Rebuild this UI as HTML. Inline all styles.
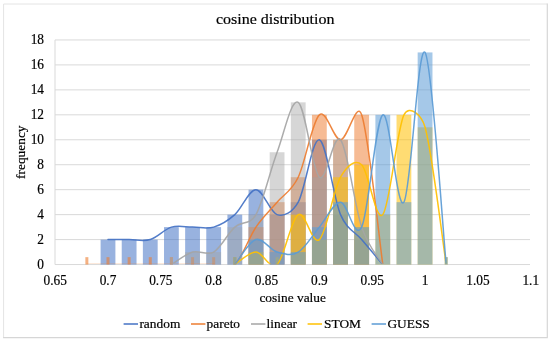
<!DOCTYPE html>
<html><head><meta charset="utf-8"><title>cosine distribution</title>
<style>html,body{margin:0;padding:0;background:#fff;}svg{display:block;}</style>
</head><body>
<svg width="550" height="341" viewBox="0 0 550 341">
<rect x="0" y="0" width="550" height="341" fill="#fff"/>
<path d="M3.6,4 H547.3 M3.6,4 V337.7" stroke="#e4e4e4" stroke-width="1" fill="none"/>
<path d="M547.3,3.5 V337.7 M3.1,337.7 H547.8" stroke="#d6d6d6" stroke-width="1.2" fill="none"/>
<line x1="55.0" y1="264.55" x2="530.0" y2="264.55" stroke="#d9d9d9" stroke-width="1"/>
<line x1="55.0" y1="239.59" x2="530.0" y2="239.59" stroke="#d9d9d9" stroke-width="1"/>
<line x1="55.0" y1="214.64" x2="530.0" y2="214.64" stroke="#d9d9d9" stroke-width="1"/>
<line x1="55.0" y1="189.68" x2="530.0" y2="189.68" stroke="#d9d9d9" stroke-width="1"/>
<line x1="55.0" y1="164.73" x2="530.0" y2="164.73" stroke="#d9d9d9" stroke-width="1"/>
<line x1="55.0" y1="139.77" x2="530.0" y2="139.77" stroke="#d9d9d9" stroke-width="1"/>
<line x1="55.0" y1="114.82" x2="530.0" y2="114.82" stroke="#d9d9d9" stroke-width="1"/>
<line x1="55.0" y1="89.86" x2="530.0" y2="89.86" stroke="#d9d9d9" stroke-width="1"/>
<line x1="55.0" y1="64.91" x2="530.0" y2="64.91" stroke="#d9d9d9" stroke-width="1"/>
<line x1="55.0" y1="39.95" x2="530.0" y2="39.95" stroke="#d9d9d9" stroke-width="1"/>
<line x1="55.0" y1="39.95" x2="55.0" y2="264.55" stroke="#d9d9d9" stroke-width="1"/>
<g fill="#4472C4" fill-opacity="0.55">
<rect x="100.59" y="239.59" width="14.8" height="24.96"/>
<rect x="121.73" y="239.59" width="14.8" height="24.96"/>
<rect x="142.87" y="239.59" width="14.8" height="24.96"/>
<rect x="164.01" y="227.12" width="14.8" height="37.43"/>
<rect x="185.15" y="227.12" width="14.8" height="37.43"/>
<rect x="206.28" y="227.12" width="14.8" height="37.43"/>
<rect x="227.42" y="214.64" width="14.8" height="49.91"/>
<rect x="248.56" y="189.68" width="14.8" height="74.87"/>
<rect x="269.70" y="214.64" width="14.8" height="49.91"/>
<rect x="290.83" y="202.16" width="14.8" height="62.39"/>
<rect x="311.97" y="139.77" width="14.8" height="124.78"/>
<rect x="333.11" y="214.64" width="14.8" height="49.91"/>
<rect x="354.25" y="239.59" width="14.8" height="24.96"/>
</g>
<g fill="#ED7D31" fill-opacity="0.52">
<rect x="85.36" y="257.15" width="3.0" height="7.4" fill-opacity="0.6"/>
<rect x="106.49" y="257.15" width="3.0" height="7.4" fill-opacity="0.6"/>
<rect x="127.63" y="257.15" width="3.0" height="7.4" fill-opacity="0.6"/>
<rect x="148.77" y="257.15" width="3.0" height="7.4" fill-opacity="0.6"/>
<rect x="169.91" y="257.15" width="3.0" height="7.4" fill-opacity="0.6"/>
<rect x="191.05" y="257.15" width="3.0" height="7.4" fill-opacity="0.6"/>
<rect x="212.18" y="257.15" width="3.0" height="7.4" fill-opacity="0.6"/>
<rect x="233.32" y="257.15" width="3.0" height="7.4" fill-opacity="0.6"/>
<rect x="248.56" y="227.12" width="14.8" height="37.43"/>
<rect x="269.70" y="202.16" width="14.8" height="62.39"/>
<rect x="290.83" y="177.21" width="14.8" height="87.34"/>
<rect x="311.97" y="114.82" width="14.8" height="149.73"/>
<rect x="333.11" y="139.77" width="14.8" height="124.78"/>
<rect x="354.25" y="114.82" width="14.8" height="149.73"/>
</g>
<g fill="#A5A5A5" fill-opacity="0.45">
<rect x="169.91" y="257.15" width="3.0" height="7.4" fill-opacity="0.6"/>
<rect x="185.15" y="252.07" width="14.8" height="12.48"/>
<rect x="206.28" y="252.07" width="14.8" height="12.48"/>
<rect x="227.42" y="227.12" width="14.8" height="37.43"/>
<rect x="248.56" y="214.64" width="14.8" height="49.91"/>
<rect x="269.70" y="152.25" width="14.8" height="112.30"/>
<rect x="290.83" y="102.34" width="14.8" height="162.21"/>
<rect x="311.97" y="177.21" width="14.8" height="87.34"/>
<rect x="333.11" y="139.77" width="14.8" height="124.78"/>
<rect x="354.25" y="227.12" width="14.8" height="37.43"/>
</g>
<g fill="#FFC000" fill-opacity="0.55">
<rect x="233.32" y="257.15" width="3.0" height="7.4" fill-opacity="0.6"/>
<rect x="248.56" y="252.07" width="14.8" height="12.48"/>
<rect x="275.60" y="257.15" width="3.0" height="7.4" fill-opacity="0.6"/>
<rect x="290.83" y="214.64" width="14.8" height="49.91"/>
<rect x="311.97" y="239.59" width="14.8" height="24.96"/>
<rect x="333.11" y="177.21" width="14.8" height="87.34"/>
<rect x="354.25" y="164.73" width="14.8" height="99.82"/>
<rect x="375.39" y="214.64" width="14.8" height="49.91"/>
<rect x="396.52" y="114.82" width="14.8" height="149.73"/>
<rect x="417.66" y="127.29" width="14.8" height="137.26"/>
<rect x="444.70" y="257.15" width="3.0" height="7.4" fill-opacity="0.6"/>
</g>
<g fill="#5B9BD5" fill-opacity="0.55">
<rect x="233.32" y="257.15" width="3.0" height="7.4" fill-opacity="0.6"/>
<rect x="248.56" y="239.59" width="14.8" height="24.96"/>
<rect x="269.70" y="252.07" width="14.8" height="12.48"/>
<rect x="290.83" y="252.07" width="14.8" height="12.48"/>
<rect x="311.97" y="227.12" width="14.8" height="37.43"/>
<rect x="333.11" y="202.16" width="14.8" height="62.39"/>
<rect x="354.25" y="227.12" width="14.8" height="37.43"/>
<rect x="375.39" y="114.82" width="14.8" height="149.73"/>
<rect x="396.52" y="202.16" width="14.8" height="62.39"/>
<rect x="417.66" y="52.43" width="14.8" height="212.12"/>
<rect x="444.70" y="257.15" width="3.0" height="7.4" fill-opacity="0.6"/>
</g>
<defs><clipPath id="pc"><rect x="54.0" y="37.95" width="477.0" height="225.90000000000003"/></clipPath></defs>
<g clip-path="url(#pc)">
<path d="M107.99,239.59 C111.52,239.59 122.09,239.59 129.13,239.59 C136.18,239.59 143.22,241.67 150.27,239.59 C157.32,237.51 164.36,229.20 171.41,227.12 C178.45,225.04 185.50,227.12 192.55,227.12 C199.59,227.12 206.64,229.20 213.68,227.12 C220.73,225.04 227.78,220.88 234.82,214.64 C241.87,208.40 248.91,189.68 255.96,189.68 C263.00,189.68 270.05,212.56 277.10,214.64 C284.14,216.72 292.20,212.85 298.23,202.16 C305.28,189.68 312.33,137.69 319.37,139.77 C326.42,141.85 333.46,198.00 340.51,214.64 C346.89,229.70 354.60,231.28 361.65,239.59 C368.69,247.91 379.26,260.39 382.79,264.55" fill="none" stroke="#4472C4" stroke-width="1.5" stroke-opacity="0.92" stroke-linejoin="round" stroke-linecap="round"/>
<path d="M86.86,264.55 C90.38,264.55 100.95,264.55 107.99,264.55 C115.04,264.55 122.09,264.55 129.13,264.55 C136.18,264.55 143.22,264.55 150.27,264.55 C157.32,264.55 164.36,264.55 171.41,264.55 C178.45,264.55 185.50,264.55 192.55,264.55 C199.59,264.55 206.64,264.55 213.68,264.55 C220.73,264.55 227.78,270.79 234.82,264.55 C241.87,258.31 248.91,237.51 255.96,227.12 C263.00,216.72 270.05,210.48 277.10,202.16 C284.14,193.84 291.19,191.76 298.23,177.21 C305.28,162.65 312.33,121.06 319.37,114.82 C326.42,108.58 333.46,139.77 340.51,139.77 C347.56,139.77 356.40,99.33 361.65,114.82 C368.69,135.61 379.26,239.59 382.79,264.55" fill="none" stroke="#ED7D31" stroke-width="1.5" stroke-opacity="0.92" stroke-linejoin="round" stroke-linecap="round"/>
<path d="M171.41,264.55 C174.93,262.47 185.50,254.15 192.55,252.07 C199.59,249.99 206.64,256.23 213.68,252.07 C220.73,247.91 227.78,233.36 234.82,227.12 C241.87,220.88 249.92,225.33 255.96,214.64 C263.00,202.16 270.05,170.97 277.10,152.25 C284.14,133.53 291.19,98.18 298.23,102.34 C305.28,106.50 312.33,170.97 319.37,177.21 C326.42,183.44 333.46,131.45 340.51,139.77 C347.56,148.09 354.60,206.32 361.65,227.12 C368.55,247.47 379.26,258.31 382.79,264.55" fill="none" stroke="#A5A5A5" stroke-width="1.5" stroke-opacity="0.92" stroke-linejoin="round" stroke-linecap="round"/>
<path d="M234.82,264.55 C238.34,262.47 248.91,252.07 255.96,252.07 C263.00,252.07 270.05,270.79 277.10,264.55 C284.14,258.31 291.19,218.80 298.23,214.64 C305.28,210.48 312.33,245.83 319.37,239.59 C326.42,233.36 333.46,189.68 340.51,177.21 C346.54,166.52 354.60,158.49 361.65,164.73 C368.69,170.97 375.74,222.96 382.79,214.64 C389.83,206.32 396.88,129.37 403.92,114.82 C409.27,103.77 421.73,115.48 425.06,127.29 C432.11,152.25 442.68,241.67 446.20,264.55" fill="none" stroke="#FFC000" stroke-width="1.5" stroke-opacity="0.92" stroke-linejoin="round" stroke-linecap="round"/>
<path d="M234.82,264.55 C238.34,260.39 248.91,241.67 255.96,239.59 C263.00,237.51 270.05,249.99 277.10,252.07 C284.14,254.15 291.19,256.23 298.23,252.07 C305.28,247.91 312.33,235.44 319.37,227.12 C326.42,218.80 333.46,202.16 340.51,202.16 C347.56,202.16 354.60,241.67 361.65,227.12 C368.69,212.56 375.74,118.98 382.79,114.82 C389.83,110.66 396.88,212.56 403.92,202.16 C410.97,191.76 418.02,42.03 425.06,52.43 C432.11,62.83 442.68,229.20 446.20,264.55" fill="none" stroke="#5B9BD5" stroke-width="1.5" stroke-opacity="0.92" stroke-linejoin="round" stroke-linecap="round"/>
</g>
<text transform="translate(275.20,23.90) scale(1.0,0.93)" font-family="'Liberation Serif', 'Times New Roman', serif" font-size="16" text-anchor="middle" fill="#000" stroke="#000" stroke-width="0.2">cosine distribution</text>
<text transform="translate(44.00,268.85) scale(0.92,1.0)" font-family="'Liberation Serif', 'Times New Roman', serif" font-size="14.5" text-anchor="end" fill="#000" stroke="#000" stroke-width="0.2">0</text>
<text transform="translate(44.00,243.89) scale(0.92,1.0)" font-family="'Liberation Serif', 'Times New Roman', serif" font-size="14.5" text-anchor="end" fill="#000" stroke="#000" stroke-width="0.2">2</text>
<text transform="translate(44.00,218.94) scale(0.92,1.0)" font-family="'Liberation Serif', 'Times New Roman', serif" font-size="14.5" text-anchor="end" fill="#000" stroke="#000" stroke-width="0.2">4</text>
<text transform="translate(44.00,193.98) scale(0.92,1.0)" font-family="'Liberation Serif', 'Times New Roman', serif" font-size="14.5" text-anchor="end" fill="#000" stroke="#000" stroke-width="0.2">6</text>
<text transform="translate(44.00,169.03) scale(0.92,1.0)" font-family="'Liberation Serif', 'Times New Roman', serif" font-size="14.5" text-anchor="end" fill="#000" stroke="#000" stroke-width="0.2">8</text>
<text transform="translate(44.00,144.07) scale(0.92,1.0)" font-family="'Liberation Serif', 'Times New Roman', serif" font-size="14.5" text-anchor="end" fill="#000" stroke="#000" stroke-width="0.2">10</text>
<text transform="translate(44.00,119.12) scale(0.92,1.0)" font-family="'Liberation Serif', 'Times New Roman', serif" font-size="14.5" text-anchor="end" fill="#000" stroke="#000" stroke-width="0.2">12</text>
<text transform="translate(44.00,94.16) scale(0.92,1.0)" font-family="'Liberation Serif', 'Times New Roman', serif" font-size="14.5" text-anchor="end" fill="#000" stroke="#000" stroke-width="0.2">14</text>
<text transform="translate(44.00,69.21) scale(0.92,1.0)" font-family="'Liberation Serif', 'Times New Roman', serif" font-size="14.5" text-anchor="end" fill="#000" stroke="#000" stroke-width="0.2">16</text>
<text transform="translate(44.00,44.25) scale(0.92,1.0)" font-family="'Liberation Serif', 'Times New Roman', serif" font-size="14.5" text-anchor="end" fill="#000" stroke="#000" stroke-width="0.2">18</text>
<text transform="translate(55.15,284.80) scale(0.92,1.0)" font-family="'Liberation Serif', 'Times New Roman', serif" font-size="14.5" text-anchor="middle" fill="#000" stroke="#000" stroke-width="0.2">0.65</text>
<text transform="translate(107.99,284.80) scale(0.92,1.0)" font-family="'Liberation Serif', 'Times New Roman', serif" font-size="14.5" text-anchor="middle" fill="#000" stroke="#000" stroke-width="0.2">0.7</text>
<text transform="translate(160.84,284.80) scale(0.92,1.0)" font-family="'Liberation Serif', 'Times New Roman', serif" font-size="14.5" text-anchor="middle" fill="#000" stroke="#000" stroke-width="0.2">0.75</text>
<text transform="translate(213.68,284.80) scale(0.92,1.0)" font-family="'Liberation Serif', 'Times New Roman', serif" font-size="14.5" text-anchor="middle" fill="#000" stroke="#000" stroke-width="0.2">0.8</text>
<text transform="translate(266.53,284.80) scale(0.92,1.0)" font-family="'Liberation Serif', 'Times New Roman', serif" font-size="14.5" text-anchor="middle" fill="#000" stroke="#000" stroke-width="0.2">0.85</text>
<text transform="translate(319.37,284.80) scale(0.92,1.0)" font-family="'Liberation Serif', 'Times New Roman', serif" font-size="14.5" text-anchor="middle" fill="#000" stroke="#000" stroke-width="0.2">0.9</text>
<text transform="translate(372.22,284.80) scale(0.92,1.0)" font-family="'Liberation Serif', 'Times New Roman', serif" font-size="14.5" text-anchor="middle" fill="#000" stroke="#000" stroke-width="0.2">0.95</text>
<text transform="translate(425.06,284.80) scale(0.92,1.0)" font-family="'Liberation Serif', 'Times New Roman', serif" font-size="14.5" text-anchor="middle" fill="#000" stroke="#000" stroke-width="0.2">1</text>
<text transform="translate(477.91,284.80) scale(0.92,1.0)" font-family="'Liberation Serif', 'Times New Roman', serif" font-size="14.5" text-anchor="middle" fill="#000" stroke="#000" stroke-width="0.2">1.05</text>
<text transform="translate(530.75,284.80) scale(0.92,1.0)" font-family="'Liberation Serif', 'Times New Roman', serif" font-size="14.5" text-anchor="middle" fill="#000" stroke="#000" stroke-width="0.2">1.1</text>
<text transform="translate(292.70,302.20)" font-family="'Liberation Serif', 'Times New Roman', serif" font-size="13.4" text-anchor="middle" fill="#000" stroke="#000" stroke-width="0.2">cosine value</text>
<text transform="translate(25.30,152.20) rotate(-90)" font-family="'Liberation Serif', 'Times New Roman', serif" font-size="13.4" text-anchor="middle" fill="#000" stroke="#000" stroke-width="0.2">frequency</text>
<line x1="123.6" y1="324" x2="138.0" y2="324" stroke="#4472C4" stroke-width="1.5"/>
<text transform="translate(139.40,327.60)" font-family="'Liberation Serif', 'Times New Roman', serif" font-size="13.4" text-anchor="start" fill="#000" stroke="#000" stroke-width="0.2">random</text>
<line x1="191" y1="324" x2="205.4" y2="324" stroke="#ED7D31" stroke-width="1.5"/>
<text transform="translate(206.60,327.60)" font-family="'Liberation Serif', 'Times New Roman', serif" font-size="13.4" text-anchor="start" fill="#000" stroke="#000" stroke-width="0.2">pareto</text>
<line x1="251" y1="324" x2="265.4" y2="324" stroke="#A5A5A5" stroke-width="1.5"/>
<text transform="translate(266.60,327.60)" font-family="'Liberation Serif', 'Times New Roman', serif" font-size="13.4" text-anchor="start" fill="#000" stroke="#000" stroke-width="0.2">linear</text>
<line x1="307.6" y1="324" x2="322.0" y2="324" stroke="#FFC000" stroke-width="1.5"/>
<text transform="translate(324.00,327.60)" font-family="'Liberation Serif', 'Times New Roman', serif" font-size="13.4" text-anchor="start" fill="#000" stroke="#000" stroke-width="0.2">STOM</text>
<line x1="371.6" y1="324" x2="386.0" y2="324" stroke="#5B9BD5" stroke-width="1.5"/>
<text transform="translate(387.40,327.60)" font-family="'Liberation Serif', 'Times New Roman', serif" font-size="13.4" text-anchor="start" fill="#000" stroke="#000" stroke-width="0.2">GUESS</text>
</svg>
</body></html>
